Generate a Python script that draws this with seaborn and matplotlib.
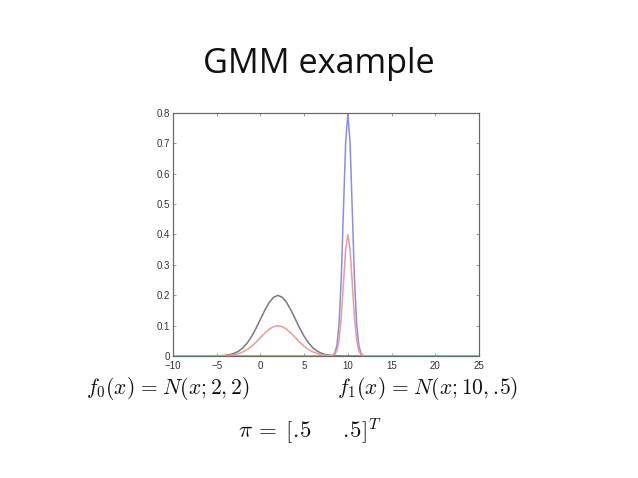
import matplotlib
matplotlib.use("Agg")
import matplotlib.pyplot as plt
import seaborn as sns
import pandas as pd

# x grid
x_vals = [-10, -6, -5, -4.5, -4, -3.5, -3, -2.5, -2, -1.5, -1, -0.5, 0, 0.5, 1, 1.5,
          2, 2.5, 3, 3.5, 4, 4.5, 5, 5.5, 6, 6.5, 7, 7.5, 8, 8.25, 8.5, 8.75, 9,
          9.25, 9.5, 9.75, 10, 10.25, 10.5, 10.75, 11, 11.25, 11.5, 11.75, 12, 13, 25]

# f0 component (gray)
f0_vals = [0, 0.0001, 0.0004, 0.0010, 0.0022, 0.0045, 0.0088, 0.0159, 0.0270, 0.0431,
           0.0648, 0.0913, 0.1210, 0.1506, 0.1760, 0.1933, 0.1995, 0.1933, 0.1760,
           0.1506, 0.1210, 0.0913, 0.0648, 0.0431, 0.0270, 0.0159, 0.0088, 0.0045,
           0.0022, 0.0015, 0.0010, 0.0007, 0.0004, 0.0003, 0.0002, 0.0001, 0.0001,
           0, 0, 0, 0, 0, 0, 0, 0, 0, 0]

# f1 component (blue)
f1_vals = [0, 0, 0, 0, 0, 0, 0, 0, 0, 0, 0, 0, 0, 0, 0, 0, 0, 0, 0, 0, 0, 0, 0, 0,
           0, 0, 0, 0, 0.0003, 0.0017, 0.0089, 0.0350, 0.1080, 0.2590, 0.4839,
           0.7041, 0.7979, 0.7041, 0.4839, 0.2590, 0.1080, 0.0350, 0.0089, 0.0017,
           0.0003, 0, 0]

# mixture (red)
mix_vals = [0, 0, 0.0002, 0.0005, 0.0011, 0.0023, 0.0044, 0.0080, 0.0135, 0.0216,
            0.0324, 0.0457, 0.0605, 0.0753, 0.0880, 0.0967, 0.0997, 0.0967, 0.0880,
            0.0753, 0.0605, 0.0457, 0.0324, 0.0216, 0.0135, 0.0080, 0.0044, 0.0023,
            0.0013, 0.0016, 0.0050, 0.0179, 0.0542, 0.1297, 0.2421, 0.3521, 0.3990,
            0.3521, 0.2420, 0.1295, 0.0540, 0.0175, 0.0045, 0.0009, 0.0002, 0, 0]

x_ticks = [-10, -5, 0, 5, 10, 15, 20, 25]
y_ticks = [0, 0.1, 0.2, 0.3, 0.4, 0.5, 0.6, 0.7, 0.8]
y_tick_labels = ["0", "0.1", "0.2", "0.3", "0.4", "0.5", "0.6", "0.7", "0.8"]
x_tick_labels = ["\u221210", "\u22125", "0", "5", "10", "15", "20", "25"]

df = pd.DataFrame({"x": x_vals, "f0": f0_vals, "f1": f1_vals, "mix": mix_vals})

sns.set_theme(style="white")
plt.rcParams["font.family"] = ["Liberation Sans", "DejaVu Sans"]
plt.rcParams["mathtext.fontset"] = "cm"

fig = plt.figure(figsize=(6.38, 4.78), dpi=100)
ax = fig.add_axes([173 / 638, 1 - 356 / 478, 306 / 638, 243 / 478])

sns.lineplot(data=df, x="x", y="f0", ax=ax, color="#7a7a7a", linewidth=1.1)
sns.lineplot(data=df, x="x", y="f1", ax=ax, color="#8c8ce6", linewidth=1.1)
sns.lineplot(data=df, x="x", y="mix", ax=ax, color="#ec9a9a", linewidth=1.1)

ax.set_xlim(-10, 25)
ax.set_ylim(0, 0.8)
ax.set_xticks(x_ticks)
ax.set_xticklabels(x_tick_labels)
ax.set_yticks(y_ticks)
ax.set_yticklabels(y_tick_labels)
ax.set_xlabel("")
ax.set_ylabel("")
for s in ax.spines.values():
    s.set_color("#6a6a6a")
    s.set_linewidth(0.9)
ax.tick_params(axis="both", which="both", direction="in", length=2.5, width=0.6,
               color="#888888", labelsize=7, labelcolor="#333333", pad=2,
               top=True, right=True, bottom=True, left=True)
ax.tick_params(axis="x", pad=3.5)

fig.text(319, 478 - 64, "GMM example", transform=None, ha="center", va="center",
         fontsize=24.7, family=["Open Sans", "DejaVu Sans"], color="#111111")

eq = r"\hspace{0.1}=\hspace{0.1}"
fig.text(168 / 638, 1 - 389 / 478, r"$f_0(x)" + eq + r"N(x;2,2)$", ha="center",
         va="center", fontsize=15.5, color="#111111")
fig.text(428 / 638, 1 - 389 / 478, r"$f_1(x)" + eq + r"N(x;10,.\!5)$", ha="center",
         va="center", fontsize=15.5, color="#111111")
fig.text(310 / 638, 1 - 432 / 478,
         r"$\pi\hspace{0.15}=\hspace{0.3}[.\!5\hspace{1.6}.\!5]^T$",
         ha="center", va="center", fontsize=16.5, color="#111111")

fig.savefig("out.png", dpi=100, facecolor="white")
